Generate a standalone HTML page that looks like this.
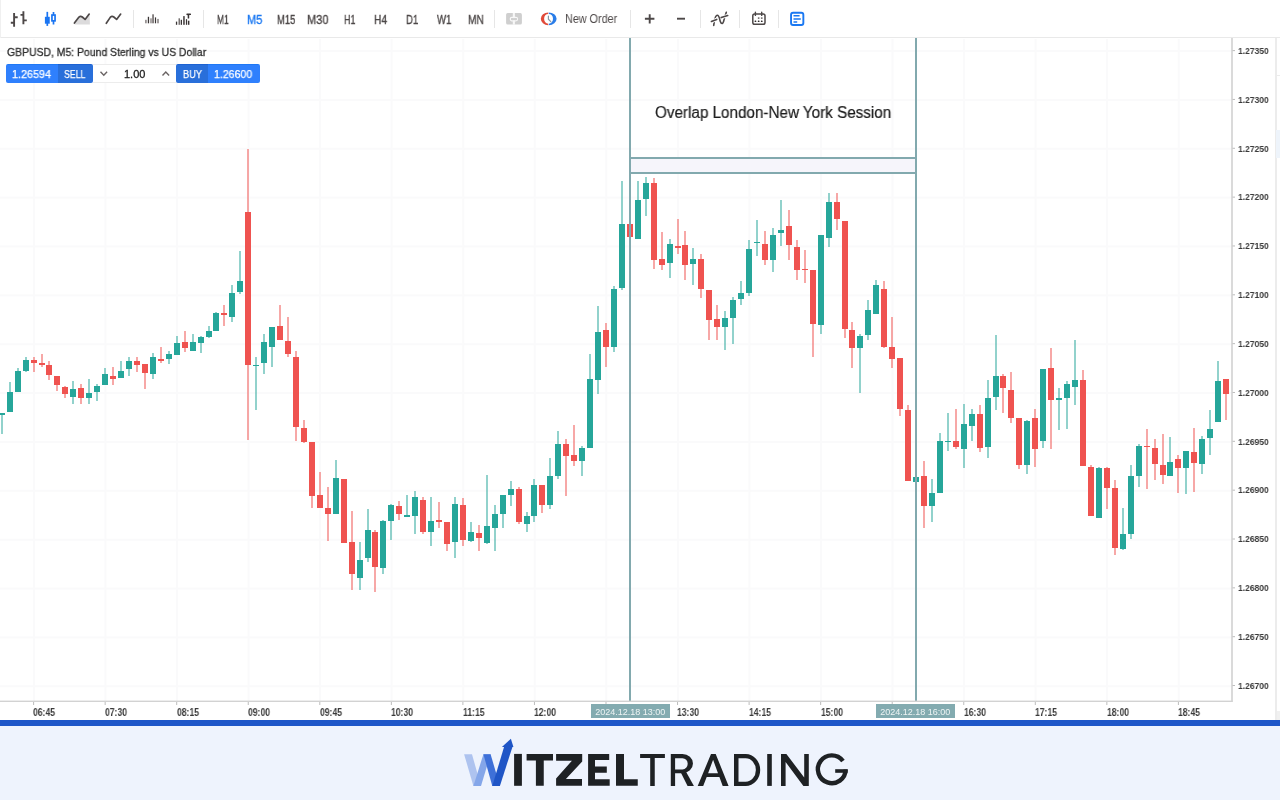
<!DOCTYPE html>
<html><head><meta charset="utf-8">
<style>
*{margin:0;padding:0;box-sizing:border-box}
div{will-change:transform}
html,body{width:1280px;height:800px;overflow:hidden;background:#fff;font-family:"Liberation Sans",sans-serif}
#tb{position:absolute;left:0;top:0;width:1280px;height:38px;background:#fff;border-bottom:1px solid #e9e9e9}
.sep{position:absolute;top:10px;width:1px;height:18px;background:#e6e6e6}
.tf{position:absolute;top:12.5px;font-size:12px;color:#4d4848;-webkit-text-stroke:0.35px #4d4848;line-height:14px;transform-origin:0 0;transform:scaleX(0.82);white-space:nowrap}
.tf.on{color:#1a78f2;-webkit-text-stroke:0.35px #1a78f2}
#chart{position:absolute;left:0;top:0}
.pl{position:absolute;left:1238px;font-size:9.9px;line-height:14px;color:#3a3a3a;font-weight:bold;transform-origin:0 50%;transform:scaleX(0.86);white-space:nowrap}
.tl{position:absolute;top:705.7px;font-size:10px;line-height:14px;color:#3a3a3a;font-weight:bold;transform-origin:0 50%;transform:scaleX(0.86);white-space:nowrap}
.tlab{position:absolute;top:704px;height:14px;width:78px;background:#83abb0;color:#eef4f4;font-size:9px;line-height:14px;text-align:center;white-space:nowrap}
.tlab span{display:inline-block;position:relative;top:1.3px}
#title{position:absolute;left:6.5px;top:44.5px;font-size:11px;line-height:14px;color:#2e2e2e;-webkit-text-stroke:0.3px #2e2e2e;white-space:nowrap;transform-origin:0 0;transform:scaleX(0.947)}
#sess{position:absolute;left:654.6px;top:104.3px;font-size:16px;line-height:18px;color:#1c1c1c;-webkit-text-stroke:0.2px #1c1c1c;white-space:nowrap;transform-origin:0 0;transform:scaleX(0.952)}
#bluebar{position:absolute;left:0;top:720px;width:1280px;height:6px;background:#1e56c8}
.bl{position:absolute;top:19.1px;font-size:46px;line-height:50px;color:#1e2124;white-space:nowrap;transform-origin:0 0}
#banner{position:absolute;left:0;top:726px;width:1280px;height:74px;background:#eef3fd}
</style></head><body>
<svg id="chart" width="1280" height="720" viewBox="0 0 1280 720">
<rect x="0" y="50.00" width="1232" height="2" fill="#fafafb"/>
<rect x="0" y="98.87" width="1232" height="2" fill="#fafafb"/>
<rect x="0" y="147.74" width="1232" height="2" fill="#fafafb"/>
<rect x="0" y="196.61" width="1232" height="2" fill="#fafafb"/>
<rect x="0" y="245.48" width="1232" height="2" fill="#fafafb"/>
<rect x="0" y="294.35" width="1232" height="2" fill="#fafafb"/>
<rect x="0" y="343.22" width="1232" height="2" fill="#fafafb"/>
<rect x="0" y="392.09" width="1232" height="2" fill="#fafafb"/>
<rect x="0" y="440.96" width="1232" height="2" fill="#fafafb"/>
<rect x="0" y="489.83" width="1232" height="2" fill="#fafafb"/>
<rect x="0" y="538.70" width="1232" height="2" fill="#fafafb"/>
<rect x="0" y="587.57" width="1232" height="2" fill="#fafafb"/>
<rect x="0" y="636.44" width="1232" height="2" fill="#fafafb"/>
<rect x="0" y="685.31" width="1232" height="2" fill="#fafafb"/>
<rect x="32.90" y="39" width="2" height="662" fill="#fafafb"/>
<rect x="104.45" y="39" width="2" height="662" fill="#fafafb"/>
<rect x="176.00" y="39" width="2" height="662" fill="#fafafb"/>
<rect x="247.55" y="39" width="2" height="662" fill="#fafafb"/>
<rect x="319.10" y="39" width="2" height="662" fill="#fafafb"/>
<rect x="390.65" y="39" width="2" height="662" fill="#fafafb"/>
<rect x="462.20" y="39" width="2" height="662" fill="#fafafb"/>
<rect x="533.75" y="39" width="2" height="662" fill="#fafafb"/>
<rect x="605.30" y="39" width="2" height="662" fill="#fafafb"/>
<rect x="676.85" y="39" width="2" height="662" fill="#fafafb"/>
<rect x="748.40" y="39" width="2" height="662" fill="#fafafb"/>
<rect x="819.95" y="39" width="2" height="662" fill="#fafafb"/>
<rect x="891.50" y="39" width="2" height="662" fill="#fafafb"/>
<rect x="963.05" y="39" width="2" height="662" fill="#fafafb"/>
<rect x="1034.60" y="39" width="2" height="662" fill="#fafafb"/>
<rect x="1106.15" y="39" width="2" height="662" fill="#fafafb"/>
<rect x="1177.70" y="39" width="2" height="662" fill="#fafafb"/>
<rect x="631" y="159" width="284" height="13" fill="#f6f5fb"/>
<rect x="629" y="157" width="288" height="2" fill="#82a9ae"/>
<rect x="629" y="172" width="288" height="2" fill="#82a9ae"/>
<rect x="1.5" y="413" width="1" height="21" fill="#26a69a"/>
<rect x="-1" y="413" width="6" height="2" fill="#26a69a"/>
<rect x="9.5" y="382" width="1" height="30" fill="#26a69a"/>
<rect x="7" y="392" width="6" height="20" fill="#26a69a"/>
<rect x="17.5" y="368" width="1" height="24" fill="#26a69a"/>
<rect x="15" y="371" width="6" height="21" fill="#26a69a"/>
<rect x="25.5" y="357" width="1" height="15" fill="#26a69a"/>
<rect x="23" y="360" width="6" height="11" fill="#26a69a"/>
<rect x="33.5" y="357" width="1" height="15" fill="#ef5350"/>
<rect x="31" y="360" width="6" height="3" fill="#ef5350"/>
<rect x="41.5" y="354" width="1" height="13" fill="#ef5350"/>
<rect x="39" y="363" width="6" height="2" fill="#ef5350"/>
<rect x="48.5" y="361" width="1" height="19" fill="#ef5350"/>
<rect x="46" y="365" width="6" height="10" fill="#ef5350"/>
<rect x="56.5" y="376" width="1" height="15" fill="#ef5350"/>
<rect x="54" y="376" width="6" height="9" fill="#ef5350"/>
<rect x="64.5" y="386" width="1" height="12" fill="#ef5350"/>
<rect x="62" y="387" width="6" height="7" fill="#ef5350"/>
<rect x="72.5" y="381" width="1" height="23" fill="#26a69a"/>
<rect x="70" y="389" width="6" height="8" fill="#26a69a"/>
<rect x="80.5" y="384" width="1" height="20" fill="#ef5350"/>
<rect x="78" y="388" width="6" height="10" fill="#ef5350"/>
<rect x="88.5" y="379" width="1" height="25" fill="#26a69a"/>
<rect x="86" y="393" width="6" height="5" fill="#26a69a"/>
<rect x="96.5" y="384" width="1" height="17" fill="#26a69a"/>
<rect x="94" y="386" width="6" height="6" fill="#26a69a"/>
<rect x="104.5" y="368" width="1" height="17" fill="#26a69a"/>
<rect x="102" y="374" width="6" height="11" fill="#26a69a"/>
<rect x="112.5" y="367" width="1" height="18" fill="#ef5350"/>
<rect x="110" y="376" width="6" height="3" fill="#ef5350"/>
<rect x="120.5" y="361" width="1" height="17" fill="#26a69a"/>
<rect x="118" y="371" width="6" height="7" fill="#26a69a"/>
<rect x="128.5" y="357" width="1" height="19" fill="#26a69a"/>
<rect x="126" y="361" width="6" height="8" fill="#26a69a"/>
<rect x="136.5" y="357" width="1" height="15" fill="#ef5350"/>
<rect x="134" y="361" width="6" height="4" fill="#ef5350"/>
<rect x="144.5" y="364" width="1" height="25" fill="#ef5350"/>
<rect x="142" y="364" width="6" height="9" fill="#ef5350"/>
<rect x="152.5" y="353" width="1" height="26" fill="#26a69a"/>
<rect x="150" y="357" width="6" height="17" fill="#26a69a"/>
<rect x="160.5" y="347" width="1" height="16" fill="#ef5350"/>
<rect x="158" y="359" width="6" height="2" fill="#ef5350"/>
<rect x="168.5" y="351" width="1" height="13" fill="#26a69a"/>
<rect x="166" y="354" width="6" height="5" fill="#26a69a"/>
<rect x="176.5" y="336" width="1" height="19" fill="#26a69a"/>
<rect x="174" y="343" width="6" height="12" fill="#26a69a"/>
<rect x="184.5" y="331" width="1" height="21" fill="#ef5350"/>
<rect x="182" y="342" width="6" height="6" fill="#ef5350"/>
<rect x="192.5" y="334" width="1" height="17" fill="#26a69a"/>
<rect x="190" y="342" width="6" height="9" fill="#26a69a"/>
<rect x="200.5" y="336" width="1" height="17" fill="#26a69a"/>
<rect x="198" y="337" width="6" height="6" fill="#26a69a"/>
<rect x="208.5" y="326" width="1" height="12" fill="#26a69a"/>
<rect x="206" y="331" width="6" height="6" fill="#26a69a"/>
<rect x="215.5" y="312" width="1" height="19" fill="#26a69a"/>
<rect x="213" y="313" width="6" height="18" fill="#26a69a"/>
<rect x="223.5" y="305" width="1" height="21" fill="#ef5350"/>
<rect x="221" y="313" width="6" height="2" fill="#ef5350"/>
<rect x="231.5" y="285" width="1" height="37" fill="#26a69a"/>
<rect x="229" y="293" width="6" height="24" fill="#26a69a"/>
<rect x="239.5" y="251" width="1" height="43" fill="#26a69a"/>
<rect x="237" y="281" width="6" height="11" fill="#26a69a"/>
<rect x="247.5" y="149" width="1" height="291" fill="#ef5350"/>
<rect x="245" y="212" width="6" height="153" fill="#ef5350"/>
<rect x="255.5" y="357" width="1" height="53" fill="#26a69a"/>
<rect x="253" y="365" width="6" height="1" fill="#26a69a"/>
<rect x="263.5" y="334" width="1" height="40" fill="#26a69a"/>
<rect x="261" y="342" width="6" height="21" fill="#26a69a"/>
<rect x="271.5" y="327" width="1" height="40" fill="#26a69a"/>
<rect x="269" y="327" width="6" height="20" fill="#26a69a"/>
<rect x="279.5" y="305" width="1" height="35" fill="#ef5350"/>
<rect x="277" y="326" width="6" height="14" fill="#ef5350"/>
<rect x="287.5" y="317" width="1" height="40" fill="#ef5350"/>
<rect x="285" y="341" width="6" height="13" fill="#ef5350"/>
<rect x="295.5" y="351" width="1" height="90" fill="#ef5350"/>
<rect x="293" y="357" width="6" height="70" fill="#ef5350"/>
<rect x="303.5" y="420" width="1" height="23" fill="#ef5350"/>
<rect x="301" y="428" width="6" height="14" fill="#ef5350"/>
<rect x="311.5" y="442" width="1" height="66" fill="#ef5350"/>
<rect x="309" y="442" width="6" height="54" fill="#ef5350"/>
<rect x="319.5" y="472" width="1" height="36" fill="#ef5350"/>
<rect x="317" y="495" width="6" height="13" fill="#ef5350"/>
<rect x="327.5" y="487" width="1" height="54" fill="#ef5350"/>
<rect x="325" y="508" width="6" height="6" fill="#ef5350"/>
<rect x="335.5" y="460" width="1" height="54" fill="#26a69a"/>
<rect x="333" y="478" width="6" height="36" fill="#26a69a"/>
<rect x="343.5" y="479" width="1" height="64" fill="#ef5350"/>
<rect x="341" y="479" width="6" height="64" fill="#ef5350"/>
<rect x="351.5" y="511" width="1" height="79" fill="#ef5350"/>
<rect x="349" y="542" width="6" height="32" fill="#ef5350"/>
<rect x="359.5" y="542" width="1" height="48" fill="#26a69a"/>
<rect x="357" y="560" width="6" height="18" fill="#26a69a"/>
<rect x="367.5" y="509" width="1" height="53" fill="#26a69a"/>
<rect x="365" y="530" width="6" height="28" fill="#26a69a"/>
<rect x="374.5" y="530" width="1" height="62" fill="#ef5350"/>
<rect x="372" y="532" width="6" height="35" fill="#ef5350"/>
<rect x="382.5" y="520" width="1" height="54" fill="#26a69a"/>
<rect x="380" y="521" width="6" height="47" fill="#26a69a"/>
<rect x="390.5" y="504" width="1" height="36" fill="#26a69a"/>
<rect x="388" y="505" width="6" height="16" fill="#26a69a"/>
<rect x="398.5" y="501" width="1" height="19" fill="#ef5350"/>
<rect x="396" y="506" width="6" height="8" fill="#ef5350"/>
<rect x="406.5" y="495" width="1" height="22" fill="#26a69a"/>
<rect x="404" y="515" width="6" height="2" fill="#26a69a"/>
<rect x="414.5" y="491" width="1" height="43" fill="#26a69a"/>
<rect x="412" y="497" width="6" height="19" fill="#26a69a"/>
<rect x="422.5" y="497" width="1" height="37" fill="#ef5350"/>
<rect x="420" y="500" width="6" height="32" fill="#ef5350"/>
<rect x="430.5" y="497" width="1" height="49" fill="#26a69a"/>
<rect x="428" y="521" width="6" height="11" fill="#26a69a"/>
<rect x="438.5" y="502" width="1" height="26" fill="#ef5350"/>
<rect x="436" y="520" width="6" height="2" fill="#ef5350"/>
<rect x="446.5" y="522" width="1" height="29" fill="#ef5350"/>
<rect x="444" y="522" width="6" height="22" fill="#ef5350"/>
<rect x="454.5" y="497" width="1" height="61" fill="#26a69a"/>
<rect x="452" y="504" width="6" height="38" fill="#26a69a"/>
<rect x="462.5" y="498" width="1" height="48" fill="#ef5350"/>
<rect x="460" y="505" width="6" height="35" fill="#ef5350"/>
<rect x="470.5" y="522" width="1" height="20" fill="#26a69a"/>
<rect x="468" y="532" width="6" height="9" fill="#26a69a"/>
<rect x="478.5" y="525" width="1" height="26" fill="#ef5350"/>
<rect x="476" y="533" width="6" height="5" fill="#ef5350"/>
<rect x="486.5" y="475" width="1" height="69" fill="#26a69a"/>
<rect x="484" y="526" width="6" height="17" fill="#26a69a"/>
<rect x="494.5" y="505" width="1" height="46" fill="#26a69a"/>
<rect x="492" y="514" width="6" height="14" fill="#26a69a"/>
<rect x="502.5" y="495" width="1" height="33" fill="#26a69a"/>
<rect x="500" y="495" width="6" height="19" fill="#26a69a"/>
<rect x="510.5" y="481" width="1" height="25" fill="#26a69a"/>
<rect x="508" y="489" width="6" height="6" fill="#26a69a"/>
<rect x="518.5" y="487" width="1" height="37" fill="#ef5350"/>
<rect x="516" y="489" width="6" height="33" fill="#ef5350"/>
<rect x="526.5" y="512" width="1" height="20" fill="#26a69a"/>
<rect x="524" y="516" width="6" height="8" fill="#26a69a"/>
<rect x="533.5" y="479" width="1" height="43" fill="#26a69a"/>
<rect x="531" y="485" width="6" height="31" fill="#26a69a"/>
<rect x="541.5" y="485" width="1" height="28" fill="#ef5350"/>
<rect x="539" y="485" width="6" height="20" fill="#ef5350"/>
<rect x="549.5" y="458" width="1" height="51" fill="#26a69a"/>
<rect x="547" y="476" width="6" height="29" fill="#26a69a"/>
<rect x="557.5" y="431" width="1" height="48" fill="#26a69a"/>
<rect x="555" y="444" width="6" height="32" fill="#26a69a"/>
<rect x="565.5" y="439" width="1" height="57" fill="#ef5350"/>
<rect x="563" y="444" width="6" height="12" fill="#ef5350"/>
<rect x="573.5" y="425" width="1" height="41" fill="#ef5350"/>
<rect x="571" y="455" width="6" height="6" fill="#ef5350"/>
<rect x="581.5" y="446" width="1" height="30" fill="#26a69a"/>
<rect x="579" y="448" width="6" height="13" fill="#26a69a"/>
<rect x="589.5" y="354" width="1" height="94" fill="#26a69a"/>
<rect x="587" y="379" width="6" height="69" fill="#26a69a"/>
<rect x="597.5" y="306" width="1" height="88" fill="#26a69a"/>
<rect x="595" y="332" width="6" height="48" fill="#26a69a"/>
<rect x="605.5" y="323" width="1" height="44" fill="#ef5350"/>
<rect x="603" y="330" width="6" height="17" fill="#ef5350"/>
<rect x="613.5" y="286" width="1" height="66" fill="#26a69a"/>
<rect x="611" y="289" width="6" height="58" fill="#26a69a"/>
<rect x="621.5" y="181" width="1" height="109" fill="#26a69a"/>
<rect x="619" y="224" width="6" height="64" fill="#26a69a"/>
<rect x="629.5" y="224" width="1" height="13" fill="#ef5350"/>
<rect x="627" y="224" width="6" height="13" fill="#ef5350"/>
<rect x="637.5" y="181" width="1" height="58" fill="#26a69a"/>
<rect x="635" y="200" width="6" height="39" fill="#26a69a"/>
<rect x="645.5" y="177" width="1" height="39" fill="#26a69a"/>
<rect x="643" y="183" width="6" height="16" fill="#26a69a"/>
<rect x="653.5" y="178" width="1" height="91" fill="#ef5350"/>
<rect x="651" y="183" width="6" height="77" fill="#ef5350"/>
<rect x="661.5" y="232" width="1" height="38" fill="#ef5350"/>
<rect x="659" y="259" width="6" height="6" fill="#ef5350"/>
<rect x="669.5" y="239" width="1" height="39" fill="#26a69a"/>
<rect x="667" y="244" width="6" height="19" fill="#26a69a"/>
<rect x="677.5" y="219" width="1" height="35" fill="#ef5350"/>
<rect x="675" y="246" width="6" height="2" fill="#ef5350"/>
<rect x="684.5" y="231" width="1" height="49" fill="#ef5350"/>
<rect x="682" y="245" width="6" height="20" fill="#ef5350"/>
<rect x="692.5" y="248" width="1" height="37" fill="#26a69a"/>
<rect x="690" y="259" width="6" height="5" fill="#26a69a"/>
<rect x="700.5" y="254" width="1" height="44" fill="#ef5350"/>
<rect x="698" y="259" width="6" height="30" fill="#ef5350"/>
<rect x="708.5" y="290" width="1" height="50" fill="#ef5350"/>
<rect x="706" y="290" width="6" height="30" fill="#ef5350"/>
<rect x="716.5" y="305" width="1" height="35" fill="#ef5350"/>
<rect x="714" y="319" width="6" height="8" fill="#ef5350"/>
<rect x="724.5" y="311" width="1" height="39" fill="#26a69a"/>
<rect x="722" y="318" width="6" height="9" fill="#26a69a"/>
<rect x="732.5" y="297" width="1" height="47" fill="#26a69a"/>
<rect x="730" y="300" width="6" height="18" fill="#26a69a"/>
<rect x="740.5" y="281" width="1" height="24" fill="#26a69a"/>
<rect x="738" y="293" width="6" height="6" fill="#26a69a"/>
<rect x="748.5" y="240" width="1" height="56" fill="#26a69a"/>
<rect x="746" y="249" width="6" height="44" fill="#26a69a"/>
<rect x="756.5" y="220" width="1" height="36" fill="#26a69a"/>
<rect x="754" y="242" width="6" height="1" fill="#26a69a"/>
<rect x="764.5" y="231" width="1" height="34" fill="#ef5350"/>
<rect x="762" y="244" width="6" height="16" fill="#ef5350"/>
<rect x="772.5" y="228" width="1" height="44" fill="#26a69a"/>
<rect x="770" y="235" width="6" height="25" fill="#26a69a"/>
<rect x="780.5" y="200" width="1" height="46" fill="#26a69a"/>
<rect x="778" y="230" width="6" height="3" fill="#26a69a"/>
<rect x="788.5" y="210" width="1" height="50" fill="#ef5350"/>
<rect x="786" y="226" width="6" height="19" fill="#ef5350"/>
<rect x="796.5" y="240" width="1" height="40" fill="#ef5350"/>
<rect x="794" y="247" width="6" height="23" fill="#ef5350"/>
<rect x="804.5" y="250" width="1" height="33" fill="#ef5350"/>
<rect x="802" y="269" width="6" height="1" fill="#ef5350"/>
<rect x="812.5" y="270" width="1" height="87" fill="#ef5350"/>
<rect x="810" y="270" width="6" height="54" fill="#ef5350"/>
<rect x="820.5" y="235" width="1" height="99" fill="#26a69a"/>
<rect x="818" y="235" width="6" height="90" fill="#26a69a"/>
<rect x="828.5" y="193" width="1" height="54" fill="#26a69a"/>
<rect x="826" y="202" width="6" height="36" fill="#26a69a"/>
<rect x="836.5" y="193" width="1" height="37" fill="#ef5350"/>
<rect x="834" y="202" width="6" height="17" fill="#ef5350"/>
<rect x="844.5" y="221" width="1" height="117" fill="#ef5350"/>
<rect x="842" y="221" width="6" height="108" fill="#ef5350"/>
<rect x="851.5" y="322" width="1" height="46" fill="#ef5350"/>
<rect x="849" y="330" width="6" height="18" fill="#ef5350"/>
<rect x="859.5" y="334" width="1" height="59" fill="#26a69a"/>
<rect x="857" y="336" width="6" height="12" fill="#26a69a"/>
<rect x="867.5" y="300" width="1" height="40" fill="#26a69a"/>
<rect x="865" y="310" width="6" height="25" fill="#26a69a"/>
<rect x="875.5" y="280" width="1" height="34" fill="#26a69a"/>
<rect x="873" y="285" width="6" height="29" fill="#26a69a"/>
<rect x="883.5" y="281" width="1" height="67" fill="#ef5350"/>
<rect x="881" y="289" width="6" height="58" fill="#ef5350"/>
<rect x="891.5" y="317" width="1" height="51" fill="#ef5350"/>
<rect x="889" y="347" width="6" height="12" fill="#ef5350"/>
<rect x="899.5" y="358" width="1" height="58" fill="#ef5350"/>
<rect x="897" y="358" width="6" height="51" fill="#ef5350"/>
<rect x="907.5" y="405" width="1" height="76" fill="#ef5350"/>
<rect x="905" y="410" width="6" height="71" fill="#ef5350"/>
<rect x="915.5" y="477" width="1" height="5" fill="#26a69a"/>
<rect x="913" y="477" width="6" height="5" fill="#26a69a"/>
<rect x="923.5" y="461" width="1" height="67" fill="#ef5350"/>
<rect x="921" y="476" width="6" height="30" fill="#ef5350"/>
<rect x="931.5" y="479" width="1" height="43" fill="#26a69a"/>
<rect x="929" y="493" width="6" height="13" fill="#26a69a"/>
<rect x="939.5" y="433" width="1" height="60" fill="#26a69a"/>
<rect x="937" y="441" width="6" height="52" fill="#26a69a"/>
<rect x="947.5" y="413" width="1" height="38" fill="#26a69a"/>
<rect x="945" y="441" width="6" height="1" fill="#26a69a"/>
<rect x="955.5" y="409" width="1" height="40" fill="#ef5350"/>
<rect x="953" y="441" width="6" height="6" fill="#ef5350"/>
<rect x="963.5" y="404" width="1" height="64" fill="#26a69a"/>
<rect x="961" y="424" width="6" height="25" fill="#26a69a"/>
<rect x="971.5" y="409" width="1" height="32" fill="#26a69a"/>
<rect x="969" y="414" width="6" height="12" fill="#26a69a"/>
<rect x="979.5" y="405" width="1" height="47" fill="#ef5350"/>
<rect x="977" y="414" width="6" height="34" fill="#ef5350"/>
<rect x="987.5" y="380" width="1" height="78" fill="#26a69a"/>
<rect x="985" y="398" width="6" height="49" fill="#26a69a"/>
<rect x="995.5" y="335" width="1" height="75" fill="#26a69a"/>
<rect x="993" y="376" width="6" height="21" fill="#26a69a"/>
<rect x="1002.5" y="374" width="1" height="39" fill="#ef5350"/>
<rect x="1000" y="376" width="6" height="12" fill="#ef5350"/>
<rect x="1010.5" y="372" width="1" height="51" fill="#ef5350"/>
<rect x="1008" y="390" width="6" height="28" fill="#ef5350"/>
<rect x="1018.5" y="418" width="1" height="51" fill="#ef5350"/>
<rect x="1016" y="418" width="6" height="47" fill="#ef5350"/>
<rect x="1026.5" y="420" width="1" height="54" fill="#26a69a"/>
<rect x="1024" y="421" width="6" height="44" fill="#26a69a"/>
<rect x="1034.5" y="409" width="1" height="58" fill="#ef5350"/>
<rect x="1032" y="418" width="6" height="31" fill="#ef5350"/>
<rect x="1042.5" y="369" width="1" height="79" fill="#26a69a"/>
<rect x="1040" y="369" width="6" height="72" fill="#26a69a"/>
<rect x="1050.5" y="348" width="1" height="101" fill="#ef5350"/>
<rect x="1048" y="368" width="6" height="32" fill="#ef5350"/>
<rect x="1058.5" y="388" width="1" height="42" fill="#26a69a"/>
<rect x="1056" y="398" width="6" height="2" fill="#26a69a"/>
<rect x="1066.5" y="381" width="1" height="48" fill="#26a69a"/>
<rect x="1064" y="384" width="6" height="14" fill="#26a69a"/>
<rect x="1074.5" y="340" width="1" height="65" fill="#26a69a"/>
<rect x="1072" y="380" width="6" height="7" fill="#26a69a"/>
<rect x="1082.5" y="370" width="1" height="96" fill="#ef5350"/>
<rect x="1080" y="380" width="6" height="86" fill="#ef5350"/>
<rect x="1090.5" y="465" width="1" height="51" fill="#ef5350"/>
<rect x="1088" y="467" width="6" height="49" fill="#ef5350"/>
<rect x="1098.5" y="467" width="1" height="51" fill="#26a69a"/>
<rect x="1096" y="468" width="6" height="50" fill="#26a69a"/>
<rect x="1106.5" y="467" width="1" height="42" fill="#ef5350"/>
<rect x="1104" y="468" width="6" height="20" fill="#ef5350"/>
<rect x="1114.5" y="480" width="1" height="75" fill="#ef5350"/>
<rect x="1112" y="488" width="6" height="60" fill="#ef5350"/>
<rect x="1122.5" y="508" width="1" height="42" fill="#26a69a"/>
<rect x="1120" y="534" width="6" height="15" fill="#26a69a"/>
<rect x="1130.5" y="465" width="1" height="74" fill="#26a69a"/>
<rect x="1128" y="476" width="6" height="58" fill="#26a69a"/>
<rect x="1138.5" y="444" width="1" height="43" fill="#26a69a"/>
<rect x="1136" y="446" width="6" height="30" fill="#26a69a"/>
<rect x="1146.5" y="429" width="1" height="60" fill="#ef5350"/>
<rect x="1144" y="446" width="6" height="1" fill="#ef5350"/>
<rect x="1154.5" y="439" width="1" height="41" fill="#ef5350"/>
<rect x="1152" y="448" width="6" height="16" fill="#ef5350"/>
<rect x="1162.5" y="434" width="1" height="50" fill="#ef5350"/>
<rect x="1160" y="465" width="6" height="10" fill="#ef5350"/>
<rect x="1169.5" y="437" width="1" height="39" fill="#26a69a"/>
<rect x="1167" y="462" width="6" height="14" fill="#26a69a"/>
<rect x="1177.5" y="455" width="1" height="38" fill="#ef5350"/>
<rect x="1175" y="459" width="6" height="9" fill="#ef5350"/>
<rect x="1185.5" y="451" width="1" height="43" fill="#26a69a"/>
<rect x="1183" y="451" width="6" height="17" fill="#26a69a"/>
<rect x="1193.5" y="428" width="1" height="64" fill="#ef5350"/>
<rect x="1191" y="452" width="6" height="11" fill="#ef5350"/>
<rect x="1201.5" y="436" width="1" height="38" fill="#26a69a"/>
<rect x="1199" y="439" width="6" height="25" fill="#26a69a"/>
<rect x="1209.5" y="410" width="1" height="45" fill="#26a69a"/>
<rect x="1207" y="429" width="6" height="9" fill="#26a69a"/>
<rect x="1217.5" y="361" width="1" height="61" fill="#26a69a"/>
<rect x="1215" y="381" width="6" height="41" fill="#26a69a"/>
<rect x="1225.5" y="379" width="1" height="41" fill="#ef5350"/>
<rect x="1223" y="379" width="6" height="15" fill="#ef5350"/>
<rect x="629" y="38" width="2" height="663" fill="#82a9ae"/>
<rect x="915" y="38" width="2" height="663" fill="#82a9ae"/>
<rect x="1231.2" y="38" width="1.6" height="663.5" fill="#d2d2d2"/>
<rect x="0" y="700.6" width="1232.8" height="1.4" fill="#d2d2d2"/>
<rect x="1232.5" y="50.10" width="2.5" height="1" fill="#bdbdbd"/>
<rect x="1232.5" y="98.94" width="2.5" height="1" fill="#bdbdbd"/>
<rect x="1232.5" y="147.78" width="2.5" height="1" fill="#bdbdbd"/>
<rect x="1232.5" y="196.62" width="2.5" height="1" fill="#bdbdbd"/>
<rect x="1232.5" y="245.46" width="2.5" height="1" fill="#bdbdbd"/>
<rect x="1232.5" y="294.30" width="2.5" height="1" fill="#bdbdbd"/>
<rect x="1232.5" y="343.14" width="2.5" height="1" fill="#bdbdbd"/>
<rect x="1232.5" y="391.98" width="2.5" height="1" fill="#bdbdbd"/>
<rect x="1232.5" y="440.82" width="2.5" height="1" fill="#bdbdbd"/>
<rect x="1232.5" y="489.66" width="2.5" height="1" fill="#bdbdbd"/>
<rect x="1232.5" y="538.50" width="2.5" height="1" fill="#bdbdbd"/>
<rect x="1232.5" y="587.34" width="2.5" height="1" fill="#bdbdbd"/>
<rect x="1232.5" y="636.18" width="2.5" height="1" fill="#bdbdbd"/>
<rect x="1232.5" y="685.02" width="2.5" height="1" fill="#bdbdbd"/>
<rect x="33.10" y="702" width="1" height="3" fill="#bdbdbd"/>
<rect x="104.65" y="702" width="1" height="3" fill="#bdbdbd"/>
<rect x="176.20" y="702" width="1" height="3" fill="#bdbdbd"/>
<rect x="247.75" y="702" width="1" height="3" fill="#bdbdbd"/>
<rect x="319.30" y="702" width="1" height="3" fill="#bdbdbd"/>
<rect x="390.85" y="702" width="1" height="3" fill="#bdbdbd"/>
<rect x="462.40" y="702" width="1" height="3" fill="#bdbdbd"/>
<rect x="533.95" y="702" width="1" height="3" fill="#bdbdbd"/>
<rect x="605.50" y="702" width="1" height="3" fill="#bdbdbd"/>
<rect x="677.05" y="702" width="1" height="3" fill="#bdbdbd"/>
<rect x="748.60" y="702" width="1" height="3" fill="#bdbdbd"/>
<rect x="820.15" y="702" width="1" height="3" fill="#bdbdbd"/>
<rect x="891.70" y="702" width="1" height="3" fill="#bdbdbd"/>
<rect x="963.25" y="702" width="1" height="3" fill="#bdbdbd"/>
<rect x="1034.80" y="702" width="1" height="3" fill="#bdbdbd"/>
<rect x="1106.35" y="702" width="1" height="3" fill="#bdbdbd"/>
<rect x="1177.90" y="702" width="1" height="3" fill="#bdbdbd"/>
</svg>

<!-- right strip -->
<div style="position:absolute;left:1275.2px;top:38px;width:1.5px;height:682px;background:#ececec"></div>
<div style="position:absolute;left:1277px;top:710.6px;width:3px;height:9.4px;background:#f0f0f0"></div>
<div style="position:absolute;left:1276px;top:75px;width:4px;height:1px;background:#ececec"></div>
<div style="position:absolute;left:1276px;top:130px;width:4px;height:28px;background:#eef4fb"></div>

<div class="pl" style="top:43.8px">1.27350</div><div class="pl" style="top:92.6px">1.27300</div><div class="pl" style="top:141.5px">1.27250</div><div class="pl" style="top:190.3px">1.27200</div><div class="pl" style="top:239.2px">1.27150</div><div class="pl" style="top:288.0px">1.27100</div><div class="pl" style="top:336.8px">1.27050</div><div class="pl" style="top:385.7px">1.27000</div><div class="pl" style="top:434.5px">1.26950</div><div class="pl" style="top:483.4px">1.26900</div><div class="pl" style="top:532.2px">1.26850</div><div class="pl" style="top:581.0px">1.26800</div><div class="pl" style="top:629.9px">1.26750</div><div class="pl" style="top:678.7px">1.26700</div>
<div class="tl" style="left:33.4px">06:45</div><div class="tl" style="left:105.0px">07:30</div><div class="tl" style="left:176.5px">08:15</div><div class="tl" style="left:248.1px">09:00</div><div class="tl" style="left:319.6px">09:45</div><div class="tl" style="left:391.2px">10:30</div><div class="tl" style="left:462.7px">11:15</div><div class="tl" style="left:534.2px">12:00</div><div class="tl" style="left:677.4px">13:30</div><div class="tl" style="left:748.9px">14:15</div><div class="tl" style="left:820.5px">15:00</div><div class="tl" style="left:963.5px">16:30</div><div class="tl" style="left:1035.1px">17:15</div><div class="tl" style="left:1106.6px">18:00</div><div class="tl" style="left:1178.2px">18:45</div>
<div class="tlab" style="left:590.6px;width:78.5px"><span>2024.12.18 13:00</span></div>
<div class="tlab" style="left:876.4px;width:78.6px"><span>2024.12.18 16:00</span></div>

<div id="sess">Overlap London-New York Session</div>
<div id="title">GBPUSD, M5: Pound Sterling vs US Dollar</div>

<!-- trade widget -->
<div style="position:absolute;left:6px;top:64px;width:87px;height:19px;border-radius:2px;overflow:hidden">
  <div style="position:absolute;left:0;top:0;width:52px;height:19px;background:#2f80fd;border-top:1px solid #1f78f5"></div>
  <div style="position:absolute;left:52px;top:0;width:35px;height:19px;background:#296fda;border-top:1px solid #1d62d2"></div>
  <div style="position:absolute;left:6.04px;top:2.5px;font-size:11px;line-height:14px;color:#fff;-webkit-text-stroke:0.25px #fff;white-space:nowrap;transform-origin:0 0;transform:scaleX(0.979)">1.26594</div>
  <div style="position:absolute;left:57.6px;top:2.5px;font-size:11px;line-height:14px;color:#fff;-webkit-text-stroke:0.25px #fff;white-space:nowrap;transform-origin:0 0;transform:scaleX(0.797)">SELL</div>
</div>
<div style="position:absolute;left:93px;top:64px;width:83px;height:19px;border-top:1px solid #ececec;border-bottom:1px solid #ececec;background:#fff"></div>
<svg style="position:absolute;left:99px;top:70px" width="10" height="8" viewBox="0 0 10 8"><path d="M1.5 1.8 L4.8 5.2 L8.1 1.8" stroke="#6a6464" stroke-width="1.4" fill="none"/></svg>
<div style="position:absolute;left:123.5px;top:66.5px;font-size:11px;line-height:14px;color:#222;-webkit-text-stroke:0.3px #222;white-space:nowrap">1.00</div>
<svg style="position:absolute;left:161px;top:70px" width="10" height="8" viewBox="0 0 10 8"><path d="M1.5 5.5 L4.8 2.1 L8.1 5.5" stroke="#6a6464" stroke-width="1.4" fill="none"/></svg>
<div style="position:absolute;left:176px;top:64px;width:84px;height:19px;border-radius:2px;overflow:hidden">
  <div style="position:absolute;left:0;top:0;width:32px;height:19px;background:#296fda;border-top:1px solid #1d62d2"></div>
  <div style="position:absolute;left:32px;top:0;width:52px;height:19px;background:#2f80fd;border-top:1px solid #1f78f5"></div>
  <div style="position:absolute;left:6.6px;top:2.5px;font-size:11px;line-height:14px;color:#fff;-webkit-text-stroke:0.25px #fff;white-space:nowrap;transform-origin:0 0;transform:scaleX(0.84)">BUY</div>
  <div style="position:absolute;left:38.3px;top:2.5px;font-size:11px;line-height:14px;color:#fff;-webkit-text-stroke:0.25px #fff;white-space:nowrap;transform-origin:0 0;transform:scaleX(0.958)">1.26600</div>
</div>

<!-- toolbar -->
<div id="tb">
  <div style="position:absolute;left:0;top:0;width:1px;height:38px;background:#f0f0f0"></div>
  <svg style="position:absolute;left:0;top:0" width="820" height="38" viewBox="0 0 820 38">
    <!-- bars icon -->
    <g stroke="#4d4848" stroke-width="1.9" fill="none" stroke-linecap="butt">
      <path d="M14.1 12.9V26.7 M10.8 22.8H14.1 M14.1 17.3H17.7"/>
      <path d="M23.4 11.3V24.2 M20.5 14.9H23.4 M23.4 20.4H26.8"/>
    </g>
    <!-- candles icon -->
    <g fill="#1a75f2" stroke="#1a75f2">
      <rect x="44.9" y="16.8" width="4.85" height="6.9" stroke="none"/>
      <path d="M47.3 11.85V25.9" stroke-width="1.7"/>
      <rect x="51.95" y="15.05" width="3.1" height="5.8" fill="none" stroke-width="1.7"/>
      <path d="M53.5 12.1V15.05 M53.5 20.85V24.5" stroke-width="1.7"/>
    </g>
    <!-- area icon -->
    <path d="M74.6 23.6 L78.6 17.8 Q80.3 15.4 82.3 17.0 L85.1 19.4 L89.6 14.0 L89.9 24.4 L74.6 24.4Z" fill="#dcdbdc"/>
    <path d="M74.4 23.1 L78.6 17.6 Q80.3 15.4 82.3 17.0 L85.1 19.4 L89.2 14.1" stroke="#4d4848" stroke-width="1.7" fill="none" stroke-linejoin="round" stroke-linecap="round"/>
    <!-- line icon -->
    <path d="M106.3 23.3 L110.1 17.6 Q111.8 15.4 113.8 17.0 L116.6 19.4 L120.7 14.1" stroke="#4d4848" stroke-width="1.7" fill="none" stroke-linejoin="round" stroke-linecap="round"/>
    <!-- volume icons -->
    <g>
      <rect x="145.1" y="19.8" width="1.6" height="3.5" fill="#8d8888"/>
      <rect x="147.8" y="16.8" width="1.3" height="6.5" fill="#3a3535"/>
      <rect x="150.3" y="18.3" width="1.4" height="5" fill="#8d8888"/>
      <rect x="152.2" y="14.3" width="1.7" height="9" fill="#777272"/>
      <rect x="154.9" y="17.4" width="1.2" height="5.9" fill="#3a3535"/>
      <rect x="157.2" y="18.9" width="1.6" height="4.4" fill="#8d8888"/>
    </g>
    <g>
      <rect x="175.9" y="21.6" width="1.3" height="3.2" fill="#3a3535"/>
      <rect x="178.5" y="18.3" width="1.5" height="6.5" fill="#777272"/>
      <rect x="180.7" y="19.8" width="1.3" height="5" fill="#3a3535"/>
      <rect x="183.1" y="16.1" width="1.7" height="8.7" fill="#555050"/>
      <rect x="185.9" y="19.2" width="1.2" height="5.6" fill="#3a3535"/>
      <rect x="187.9" y="20.7" width="1.5" height="4.1" fill="#3a3535"/>
      <rect x="186.4" y="13.5" width="4.6" height="1.6" rx="0.6" fill="#3a3535"/>
      <rect x="187.7" y="14.6" width="1.5" height="3.9" rx="0.6" fill="#3a3535"/>
    </g>
    <!-- one-click icon -->
    <rect x="506.1" y="13.1" width="15.8" height="11.5" rx="1.6" fill="#cfcfcf"/>
    <rect x="512.8" y="13" width="2.1" height="11.7" fill="#f7f7f7"/>
    <rect x="510.3" y="17.35" width="7.2" height="3.5" rx="1.75" fill="none" stroke="#f7f7f7" stroke-width="1.3"/>
    <rect x="511.1" y="18.1" width="5.7" height="2" fill="#cfcfcf"/>
    <!-- new order icon -->
    <path d="M548.2 12.5A7.4 6.35 0 0 0 548.2 25.2L548.2 23.8A4.1 4.95 0 0 1 548.2 13.9Z" fill="#e04a3a"/>
    <path d="M548.8 12.5A7.8 6.35 0 0 1 548.8 25.2L548.8 23.8A4.2 4.95 0 0 0 548.8 13.9Z" fill="#2a7de8"/>
    <path d="M548.4 16.1 V19.2 L550.8 21.6" stroke="#8797a3" stroke-width="1.2" fill="none" stroke-linecap="round"/>
    <!-- plus / minus -->
    <path d="M644.9 18.7H654.4 M649.7 14.2V23.4" stroke="#4d4848" stroke-width="1.9"/>
    <path d="M677 18.7H685" stroke="#4d4848" stroke-width="1.9"/>
    <!-- indicator icon -->
    <path d="M713.7 25.4 L714.2 22.3 C714.6 19.5 715.2 15.4 717.3 15.3 C719.2 15.2 719.6 19.5 720.3 21.5 C720.8 23 721.5 23.6 722.2 23.5 C723.4 23.3 723.8 20.6 724.3 18.6 L726.3 12.2" stroke="#4d4848" stroke-width="1.6" fill="none" stroke-linecap="round"/>
    <path d="M711.2 21.6 L716.9 19.4 M721 17.7 L727.9 15.5" stroke="#fff" stroke-width="3.4" fill="none"/>
    <path d="M711.4 21.5 L716.7 19.4 M721.2 17.6 L727.7 15.6" stroke="#4d4848" stroke-width="1.6" fill="none" stroke-linecap="round"/>
    <!-- calendar icon -->
    <rect x="752.8" y="14" width="12.2" height="10.2" rx="1.8" fill="none" stroke="#4d4848" stroke-width="1.5"/>
    <path d="M755.4 12.3V15.4 M761.7 12.3V15.4" stroke="#4d4848" stroke-width="1.4" stroke-linecap="round"/>
    <g fill="#7a7575"><rect x="757.8" y="17.2" width="1.7" height="1.7" rx="0.4"/><rect x="760.9" y="17.2" width="1.7" height="1.7" rx="0.4"/></g>
    <g fill="#2e2a2a"><rect x="754.6" y="20.4" width="1.7" height="1.7" rx="0.6"/><rect x="757.8" y="20.4" width="1.7" height="1.7" rx="0.6"/><rect x="760.9" y="20.4" width="1.7" height="1.7" rx="0.6"/></g>
    <!-- blue doc icon -->
    <rect x="791.05" y="12.8" width="12.3" height="12.15" rx="2" fill="none" stroke="#1a78f2" stroke-width="1.9"/>
    <path d="M793.5 15.8H799.6 M793.5 18.9H800.8 M793.5 22H797.2" stroke="#1a78f2" stroke-width="1.5"/>
  </svg>
  <div class="sep" style="left:132.5px"></div>
  <div class="sep" style="left:202.5px"></div>
  <div class="sep" style="left:494px"></div>
  <div class="sep" style="left:630px"></div>
  <div class="sep" style="left:700px"></div>
  <div class="sep" style="left:739px"></div>
  <div class="sep" style="left:777.5px"></div>
  <div class="tf" style="left:216.5px;transform:scaleX(0.70)">M1</div>
  <div class="tf on" style="left:247px;transform:scaleX(0.92)">M5</div>
  <div class="tf" style="left:276.5px;transform:scaleX(0.785)">M15</div>
  <div class="tf" style="left:306.5px;transform:scaleX(0.92)">M30</div>
  <div class="tf" style="left:343.5px;transform:scaleX(0.745)">H1</div>
  <div class="tf" style="left:373.5px;transform:scaleX(0.845)">H4</div>
  <div class="tf" style="left:406px;transform:scaleX(0.80)">D1</div>
  <div class="tf" style="left:436.5px;transform:scaleX(0.80)">W1</div>
  <div class="tf" style="left:467.5px;transform:scaleX(0.85)">MN</div>
  <div style="position:absolute;left:564.5px;top:12px;font-size:12px;line-height:14px;color:#4d4848;white-space:nowrap;transform-origin:0 0;transform:scaleX(0.9)">New Order</div>
</div>

<div id="bluebar"></div>
<div id="banner">
  <svg style="position:absolute;left:0;top:0" width="1280" height="74" viewBox="0 726 1280 74">
    <polygon points="464.1,754.2 472,754.2 480.9,785.9 473.4,785.9" fill="#aec3ef"/>
    <polygon points="473.4,785.9 481,785.9 490.6,754.2 483.4,754.2" fill="#84a6e9"/>
    <polygon points="483.4,754.2 490.6,754.2 499.9,785.9 492.3,785.9" fill="#3e70d8"/>
    <polygon points="492.3,785.9 499.9,785.9 512.6,746.5 504.2,746.5" fill="#1f55c6"/>
    <polygon points="501.9,746.9 510.9,738.8 513.4,746.9" fill="#1f55c6"/>
  </svg>
  <svg style="position:absolute;left:0;top:0" width="1280" height="74" viewBox="0 726 1280 74">
    <g fill="#1e2124">
      <rect x="514.1" y="753.9" width="7.8" height="31.9"/>
      <path d="M526.6 753.9H553V760.5H543.75V785.8H535.9V760.5H526.6Z"/>
      <path d="M556.1 753.9H582.2V761.6L565.9 778.9H582V785.8H556.1V778.6L571.9 760.8H556.1Z"/>
      <path d="M588.1 754H609.2V760.1H595V766.4H606.8V772.75H595V779.2H609.7V785.8H588.1Z"/>
      <path d="M616 754H624V779.2H637.75V785.8H616Z"/>
    </g>
    <g fill="#1e2124">
      <path d="M640.1 753.9H664.9V758H654.75V786H650.2V758H640.1Z"/>
      <path fill-rule="evenodd" d="M670.8 753.9H682.5A10.5 9.65 0 0 1 682.5 773.2H675.1V786H670.8Z M675.1 758.2V769.5H682.5A5.2 5.65 0 0 0 682.5 758.2Z"/>
      <path d="M680.3 771.5H685.9L693.9 786H687.6Z"/>
      <path fill-rule="evenodd" d="M697.7 786L711 753.9H715.7L728.6 786H722.7L719.4 777H706.7L703.2 786Z M713.1 759.8L708.1 773.2H718Z"/>
      <path fill-rule="evenodd" d="M734 754H745.7A14.5 15.95 0 0 1 745.7 785.9H734Z M738.5 758.2V781.8H745.7A10.2 11.8 0 0 0 745.7 758.2Z"/>
      <rect x="767.2" y="754" width="4.6" height="31.9"/>
      <path d="M781 754H786.4L804.2 777.6V754H808.8V785.9H803.4L785.6 761.9V785.9H781Z"/>
      <path d="M842.95 760.94A13.9 13.9 0 1 0 845.7 769.5" fill="none" stroke="#1e2124" stroke-width="4.4"/>
      <rect x="835.2" y="769.2" width="12.4" height="3.6"/>
    </g>
  </svg>
</div>
</body></html>
